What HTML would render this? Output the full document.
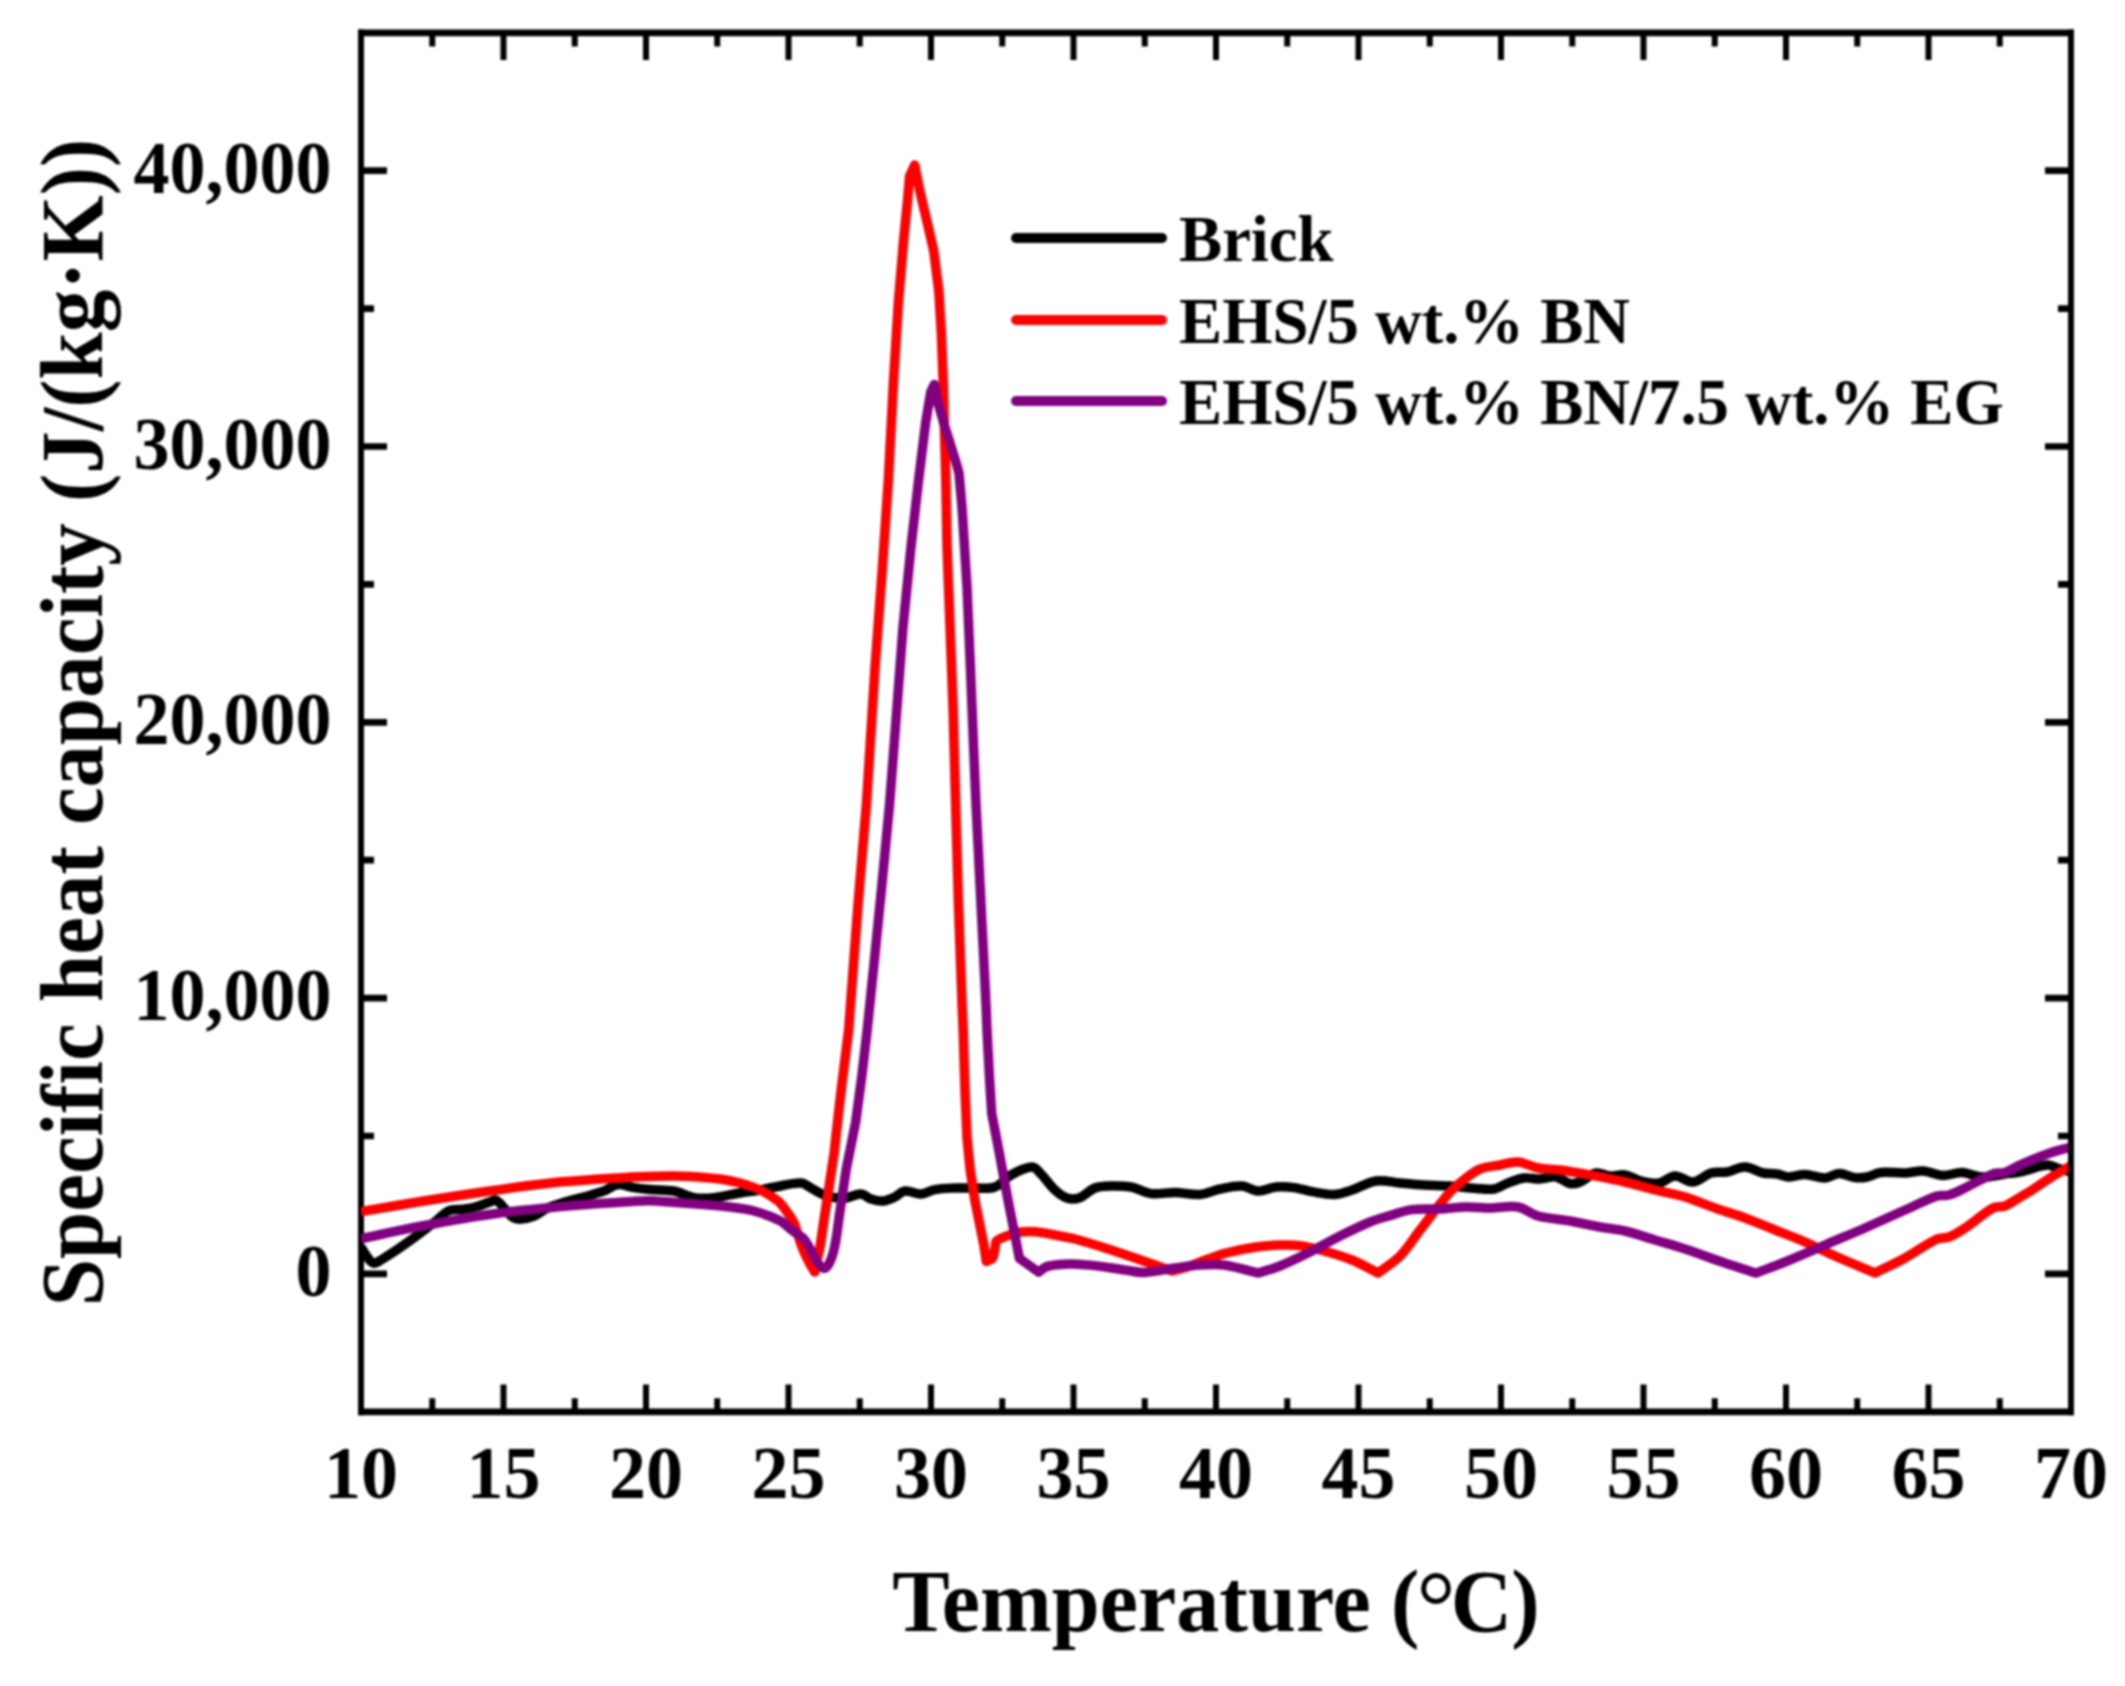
<!DOCTYPE html>
<html lang="en"><head><meta charset="utf-8"><title>Specific heat capacity</title>
<style>html,body{margin:0;padding:0;background:#fff;}svg{display:block;filter:blur(0.9px);}text{font-family:"Liberation Serif",serif;font-weight:bold;fill:#000;}</style></head><body>
<svg width="2125" height="1686" viewBox="0 0 2125 1686">
<rect width="2125" height="1686" fill="#fff"/>
<defs><clipPath id="c"><rect x="361.0" y="32.8" width="1707.0" height="1379.0"/></clipPath></defs>
<path d="M361.00,1411.8v-27.3M361.00,32.8v27.3M432.25,1411.8v-13.6M432.25,32.8v13.6M503.50,1411.8v-27.3M503.50,32.8v27.3M574.75,1411.8v-13.6M574.75,32.8v13.6M646.00,1411.8v-27.3M646.00,32.8v27.3M717.25,1411.8v-13.6M717.25,32.8v13.6M788.50,1411.8v-27.3M788.50,32.8v27.3M859.75,1411.8v-13.6M859.75,32.8v13.6M931.00,1411.8v-27.3M931.00,32.8v27.3M1002.25,1411.8v-13.6M1002.25,32.8v13.6M1073.50,1411.8v-27.3M1073.50,32.8v27.3M1144.75,1411.8v-13.6M1144.75,32.8v13.6M1216.00,1411.8v-27.3M1216.00,32.8v27.3M1287.25,1411.8v-13.6M1287.25,32.8v13.6M1358.50,1411.8v-27.3M1358.50,32.8v27.3M1429.75,1411.8v-13.6M1429.75,32.8v13.6M1501.00,1411.8v-27.3M1501.00,32.8v27.3M1572.25,1411.8v-13.6M1572.25,32.8v13.6M1643.50,1411.8v-27.3M1643.50,32.8v27.3M1714.75,1411.8v-13.6M1714.75,32.8v13.6M1786.00,1411.8v-27.3M1786.00,32.8v27.3M1857.25,1411.8v-13.6M1857.25,32.8v13.6M1928.50,1411.8v-27.3M1928.50,32.8v27.3M1999.75,1411.8v-13.6M1999.75,32.8v13.6M2071.00,1411.8v-27.3M2071.00,32.8v27.3M361.0,29.449999999999996V1415.1499999999999M2071.0,29.449999999999996V1415.1499999999999" stroke="#000" stroke-width="6.0" fill="none"/>
<path d="M361.0,1273.90h26.0M2071.0,1273.90h-26.0M361.0,1136.00h13.0M2071.0,1136.00h-13.0M361.0,998.10h26.0M2071.0,998.10h-26.0M361.0,860.20h13.0M2071.0,860.20h-13.0M361.0,722.30h26.0M2071.0,722.30h-26.0M361.0,584.40h13.0M2071.0,584.40h-13.0M361.0,446.50h26.0M2071.0,446.50h-26.0M361.0,308.60h13.0M2071.0,308.60h-13.0M361.0,170.70h26.0M2071.0,170.70h-26.0M358.0,32.8H2074.0M358.0,1411.8H2074.0" stroke="#000" stroke-width="6.7" fill="none"/>
<g clip-path="url(#c)">
<path d="M361.0,1247.0C362.7,1249.7 364.1,1252.5 366.0,1255.0C368.2,1257.9 369.9,1261.9 373.3,1263.0C375.9,1263.9 378.6,1261.4 381.0,1260.0C389.7,1254.8 398.2,1249.1 406.5,1243.2C416.1,1236.4 425.4,1229.2 434.7,1222.0C439.5,1218.3 443.3,1213.2 448.8,1210.7C453.1,1208.8 458.3,1210.0 463.0,1209.3C467.7,1208.6 472.4,1207.8 477.0,1206.5C481.8,1205.2 486.4,1203.1 491.2,1201.5C492.8,1201.0 494.6,1199.3 496.1,1200.1C499.9,1202.2 502.3,1206.2 505.3,1209.3C507.7,1211.8 509.5,1215.0 512.4,1217.0C514.4,1218.4 517.0,1219.3 519.4,1219.2C524.2,1219.1 529.0,1218.2 533.5,1216.4C538.6,1214.4 542.7,1210.3 547.7,1207.9C552.2,1205.8 557.0,1204.4 561.8,1203.0C571.1,1200.2 580.6,1197.9 590.0,1195.2C594.7,1193.8 599.5,1192.6 604.1,1190.9C608.9,1189.1 613.1,1185.2 618.2,1184.6C623.0,1184.0 627.6,1186.7 632.4,1187.4C638.2,1188.3 644.1,1189.0 650.0,1189.5C658.0,1190.2 666.1,1189.5 674.0,1191.0C680.9,1192.3 687.1,1196.5 694.0,1197.6C700.6,1198.7 707.4,1198.3 714.0,1197.6C722.8,1196.7 731.3,1194.4 740.0,1193.0C746.7,1191.9 753.4,1191.1 760.0,1190.0C765.0,1189.1 770.0,1187.9 775.0,1187.0C783.6,1185.5 792.2,1182.8 801.0,1183.0C804.7,1183.1 807.7,1186.3 811.0,1188.0C816.3,1190.7 821.3,1194.3 827.0,1196.0C832.8,1197.7 839.0,1198.4 845.0,1198.0C850.5,1197.7 855.5,1193.8 861.0,1194.0C864.7,1194.1 867.4,1197.9 871.0,1199.0C874.9,1200.2 879.0,1201.3 883.0,1201.0C887.2,1200.6 891.2,1198.7 895.0,1197.0C898.5,1195.4 901.1,1191.4 905.0,1191.0C910.4,1190.4 915.6,1194.3 921.0,1194.0C925.9,1193.8 930.2,1190.5 935.0,1189.6C941.6,1188.4 948.3,1188.3 955.0,1188.0C961.7,1187.7 968.3,1188.2 975.0,1188.0C981.7,1187.8 988.7,1189.3 995.0,1187.0C1001.3,1184.7 1005.1,1178.2 1011.0,1175.0C1017.6,1171.4 1024.5,1167.2 1032.0,1167.0C1035.8,1166.9 1038.3,1171.3 1041.0,1174.0C1046.0,1179.0 1049.8,1185.2 1055.0,1190.0C1058.5,1193.3 1062.4,1196.5 1067.0,1198.0C1070.8,1199.3 1075.2,1199.3 1079.0,1198.0C1084.9,1195.9 1089.1,1190.2 1095.0,1188.0C1100.0,1186.1 1105.6,1186.1 1111.0,1186.0C1117.7,1185.8 1124.4,1185.8 1131.0,1187.0C1137.9,1188.3 1144.0,1192.7 1151.0,1193.6C1159.0,1194.6 1167.0,1192.3 1175.0,1192.4C1183.4,1192.5 1191.7,1195.0 1200.0,1194.4C1206.9,1193.9 1213.2,1190.4 1220.0,1189.0C1227.3,1187.5 1234.6,1185.6 1242.0,1186.0C1247.6,1186.3 1252.4,1190.8 1258.0,1191.0C1264.1,1191.2 1269.9,1187.6 1276.0,1187.0C1282.0,1186.4 1288.0,1186.8 1294.0,1187.6C1300.1,1188.4 1305.9,1190.6 1312.0,1191.6C1319.3,1192.8 1326.6,1194.7 1334.0,1194.4C1340.2,1194.2 1346.1,1191.9 1352.0,1190.0C1360.1,1187.4 1367.5,1182.2 1376.0,1181.0C1383.9,1179.8 1392.0,1182.3 1400.0,1183.0C1408.0,1183.7 1416.0,1184.5 1424.0,1185.0C1432.7,1185.5 1441.3,1185.4 1450.0,1186.0C1458.7,1186.6 1467.3,1187.8 1476.0,1188.4C1482.0,1188.8 1488.1,1190.0 1494.0,1189.0C1499.0,1188.2 1503.2,1184.7 1508.0,1183.0C1513.2,1181.1 1518.5,1178.7 1524.0,1178.0C1529.3,1177.3 1534.7,1179.2 1540.0,1179.0C1545.4,1178.8 1550.7,1176.2 1556.0,1177.0C1561.1,1177.8 1564.9,1182.5 1570.0,1183.6C1573.3,1184.3 1576.9,1183.3 1580.0,1182.0C1585.7,1179.7 1590.0,1174.2 1596.0,1173.0C1600.7,1172.1 1605.2,1175.7 1610.0,1176.0C1615.0,1176.3 1620.1,1174.2 1625.0,1175.0C1630.6,1175.9 1635.5,1179.7 1641.0,1181.0C1646.9,1182.4 1653.0,1183.9 1659.0,1183.0C1664.8,1182.2 1669.2,1176.2 1675.0,1176.0C1681.3,1175.8 1686.7,1182.5 1693.0,1182.0C1699.7,1181.4 1704.6,1174.9 1711.0,1173.0C1716.1,1171.5 1721.7,1172.9 1727.0,1172.0C1733.1,1170.9 1738.8,1166.8 1745.0,1167.0C1751.3,1167.2 1756.8,1171.6 1763.0,1173.0C1767.6,1174.0 1772.4,1173.3 1777.0,1174.0C1781.1,1174.6 1784.9,1176.9 1789.0,1177.0C1794.4,1177.1 1799.6,1174.2 1805.0,1174.4C1811.8,1174.6 1818.2,1178.2 1825.0,1178.0C1829.9,1177.9 1834.1,1173.7 1839.0,1173.6C1844.5,1173.5 1849.5,1176.9 1855.0,1177.6C1859.0,1178.1 1863.1,1177.8 1867.0,1177.0C1871.8,1176.0 1876.1,1172.9 1881.0,1172.4C1889.0,1171.6 1897.0,1173.3 1905.0,1173.0C1911.0,1172.8 1917.0,1170.6 1923.0,1171.0C1929.8,1171.4 1936.2,1175.2 1943.0,1175.5C1949.4,1175.7 1955.6,1172.3 1962.0,1172.5C1968.8,1172.8 1975.2,1176.8 1982.0,1177.0C1989.7,1177.3 1997.3,1175.1 2005.0,1174.0C2010.7,1173.2 2016.4,1172.7 2022.0,1171.5C2030.4,1169.7 2038.4,1165.9 2047.0,1165.0C2050.5,1164.7 2053.7,1167.0 2057.0,1168.0C2061.7,1169.4 2066.3,1170.7 2071.0,1172.0" fill="none" stroke="#000" stroke-width="9.5" stroke-linejoin="round" stroke-linecap="butt"/>
<path d="M361.0,1211.5C380.9,1208.2 400.7,1204.7 420.6,1201.5C444.1,1197.7 467.6,1194.0 491.2,1190.7C514.7,1187.4 538.2,1184.1 561.8,1181.8C585.3,1179.5 608.8,1178.4 632.4,1177.1C644.9,1176.4 657.5,1176.2 670.0,1176.0C676.7,1175.9 683.3,1176.0 690.0,1176.4C700.0,1177.0 710.0,1177.7 720.0,1179.0C726.7,1179.9 733.4,1181.2 740.0,1183.0C746.8,1184.9 753.6,1187.0 760.0,1190.0C766.4,1193.0 772.5,1196.6 778.0,1201.0C781.7,1204.0 784.2,1208.2 787.0,1212.0C789.5,1215.5 792.2,1218.9 793.9,1222.8C797.1,1230.3 798.7,1238.4 801.6,1246.0C803.6,1251.3 806.0,1256.4 808.5,1261.4C810.3,1265.1 812.6,1268.5 814.7,1272.0C816.5,1263.3 818.3,1254.7 820.1,1246.0C821.6,1235.7 823.2,1225.3 824.7,1215.0C827.8,1194.5 830.9,1173.9 834.0,1153.4C836.3,1132.8 838.6,1112.3 840.9,1091.7C843.5,1071.1 846.0,1050.6 848.6,1030.0C849.2,1021.3 849.9,1012.7 850.5,1004.0C853.0,970.7 855.5,937.3 858.0,904.0C860.8,870.7 863.6,837.3 866.4,804.0C869.3,758.3 872.1,712.7 875.0,667.0C877.5,633.7 879.9,600.3 882.4,567.0C884.4,538.0 886.3,509.0 888.3,480.0C890.0,447.3 891.7,414.7 893.4,382.0C895.1,355.1 896.7,328.3 898.4,301.4C900.1,281.3 901.8,261.1 903.5,241.0C904.8,227.5 906.2,214.0 907.5,200.5C908.2,192.4 908.8,184.4 909.5,176.3C911.2,172.5 912.9,168.8 914.6,165.0C916.3,173.5 917.9,181.9 919.6,190.4C922.3,201.8 925.0,213.3 927.7,224.7C929.7,233.5 931.7,242.2 933.7,251.0C935.4,264.4 937.1,277.9 938.8,291.3C939.6,304.8 940.4,318.2 941.2,331.7C941.9,348.5 942.5,365.2 943.2,382.0C943.7,402.2 944.3,422.5 944.8,442.7C945.1,455.1 945.5,467.6 945.8,480.0C946.2,502.3 946.6,524.7 947.0,547.0C948.0,573.7 949.0,600.3 950.0,627.0C951.0,653.7 952.0,680.3 953.0,707.0C953.9,739.3 954.7,771.7 955.6,804.0C956.5,837.3 957.5,870.7 958.4,904.0C959.6,937.3 960.8,970.7 962.0,1004.0C962.4,1012.7 962.7,1021.3 963.1,1030.0C963.7,1050.6 964.4,1071.1 965.0,1091.7C965.7,1107.1 966.3,1122.6 967.0,1138.0C968.0,1148.3 969.0,1158.5 970.0,1168.8C971.6,1179.1 973.1,1189.4 974.7,1199.7C976.8,1210.0 978.8,1220.2 980.9,1230.5C981.9,1235.7 983.0,1240.8 984.0,1246.0C984.8,1251.1 985.5,1256.3 986.3,1261.4C988.3,1260.4 991.1,1260.2 992.4,1258.3C994.2,1255.7 994.1,1252.1 994.8,1249.0C995.4,1246.5 994.7,1243.3 996.3,1241.3C998.3,1238.8 1001.8,1237.9 1004.8,1236.7C1009.8,1234.8 1014.9,1232.8 1020.2,1232.0C1025.3,1231.2 1030.5,1231.3 1035.6,1231.8C1043.8,1232.6 1051.9,1234.5 1060.0,1236.0C1065.0,1236.9 1070.1,1237.7 1075.0,1239.0C1085.1,1241.7 1095.0,1244.8 1105.0,1248.0C1115.0,1251.2 1125.0,1254.6 1135.0,1258.0C1141.7,1260.3 1148.3,1262.7 1155.0,1265.0C1160.7,1267.0 1166.3,1269.0 1172.0,1271.0C1177.0,1269.7 1182.1,1268.6 1187.0,1267.0C1191.4,1265.6 1195.6,1263.6 1200.0,1262.0C1208.6,1258.9 1217.1,1255.4 1226.0,1253.0C1235.9,1250.4 1245.9,1248.5 1256.0,1247.0C1263.9,1245.8 1272.0,1245.3 1280.0,1245.0C1286.7,1244.8 1293.4,1244.7 1300.0,1245.6C1308.1,1246.7 1316.1,1248.8 1324.0,1251.0C1333.4,1253.6 1342.9,1256.3 1352.0,1260.0C1361.0,1263.7 1369.3,1268.7 1378.0,1273.0C1385.3,1267.3 1393.5,1262.6 1400.0,1256.0C1407.6,1248.2 1413.3,1238.7 1420.0,1230.0C1426.7,1221.3 1433.2,1212.5 1440.0,1204.0C1443.8,1199.2 1447.7,1194.3 1452.0,1190.0C1456.3,1185.7 1461.1,1181.7 1466.0,1178.0C1470.4,1174.7 1474.8,1171.0 1480.0,1169.0C1486.4,1166.6 1493.3,1166.2 1500.0,1165.0C1506.0,1163.9 1511.9,1161.5 1518.0,1162.0C1524.9,1162.5 1531.2,1166.7 1538.0,1168.0C1545.2,1169.4 1552.7,1169.0 1560.0,1170.0C1570.0,1171.4 1580.0,1173.2 1590.0,1175.0C1601.7,1177.2 1613.4,1179.3 1625.0,1182.0C1635.1,1184.3 1645.0,1187.5 1655.0,1190.0C1665.0,1192.5 1675.2,1194.0 1685.0,1197.0C1695.2,1200.1 1704.9,1204.5 1715.0,1208.0C1724.9,1211.5 1735.1,1214.4 1745.0,1218.0C1755.1,1221.7 1765.0,1226.0 1775.0,1230.0C1785.0,1234.0 1795.1,1237.7 1805.0,1242.0C1815.1,1246.4 1824.9,1251.5 1835.0,1256.0C1848.2,1261.9 1861.7,1267.3 1875.0,1273.0C1885.0,1268.0 1895.2,1263.4 1905.0,1258.0C1915.9,1252.0 1925.8,1244.3 1937.0,1239.0C1940.7,1237.3 1945.2,1238.5 1949.0,1237.0C1954.7,1234.8 1959.9,1231.4 1965.0,1228.0C1974.6,1221.7 1983.0,1213.5 1993.0,1208.0C1996.6,1206.0 2001.2,1207.4 2005.0,1206.0C2009.3,1204.4 2013.0,1201.4 2017.0,1199.0C2022.0,1196.0 2027.1,1193.1 2032.0,1190.0C2038.1,1186.1 2043.9,1181.8 2050.0,1178.0C2056.9,1173.7 2064.0,1169.7 2071.0,1165.5" fill="none" stroke="#ff0000" stroke-width="9.5" stroke-linejoin="round" stroke-linecap="butt"/>
<path d="M361.0,1238.7C380.9,1234.5 400.7,1230.0 420.6,1226.2C444.1,1221.8 467.6,1217.5 491.2,1214.2C514.6,1210.9 538.2,1208.6 561.8,1206.5C585.3,1204.4 608.9,1203.0 632.4,1201.5C638.3,1201.1 644.1,1200.6 650.0,1200.8C663.4,1201.3 676.7,1202.6 690.0,1203.6C703.3,1204.6 716.7,1205.5 730.0,1207.0C738.1,1207.9 746.2,1208.9 754.0,1211.0C762.9,1213.4 771.8,1216.5 780.0,1220.7C784.7,1223.1 788.1,1227.3 792.3,1230.5C795.8,1233.2 800.0,1235.1 803.1,1238.2C805.7,1240.8 807.4,1244.3 809.3,1247.5C811.6,1251.4 812.9,1255.8 815.5,1259.5C817.9,1262.8 820.0,1267.8 824.0,1268.3C827.0,1268.7 828.8,1264.2 830.1,1261.4C832.4,1256.6 833.7,1251.3 834.8,1246.0C836.9,1235.8 837.9,1225.3 839.4,1215.0C841.7,1199.6 844.0,1184.2 846.3,1168.8C849.4,1153.4 852.5,1137.9 855.6,1122.5C857.7,1107.1 859.7,1091.7 861.8,1076.3C863.6,1060.9 865.4,1045.4 867.2,1030.0C869.5,1008.0 871.7,986.0 874.0,964.0C876.7,937.3 879.3,910.7 882.0,884.0C884.5,857.3 887.1,830.7 889.6,804.0C892.1,771.7 894.5,739.3 897.0,707.0C899.0,680.3 901.0,653.7 903.0,627.0C905.7,600.3 908.3,573.7 911.0,547.0C913.5,524.7 916.1,502.3 918.6,480.0C921.0,460.8 923.3,441.7 925.7,422.5C927.4,412.4 929.0,402.3 930.7,392.2C931.9,389.6 933.1,387.1 934.3,384.5C935.5,390.4 936.6,396.4 937.8,402.3C940.1,410.4 942.5,418.4 944.8,426.5C948.2,437.3 951.5,448.0 954.9,458.8C956.3,463.5 957.6,468.3 959.0,473.0C960.0,484.3 961.0,495.7 962.0,507.0C963.7,533.7 965.3,560.3 967.0,587.0C968.1,613.7 969.3,640.3 970.4,667.0C971.5,693.7 972.5,720.3 973.6,747.0C974.4,766.0 975.2,785.0 976.0,804.0C977.7,837.3 979.3,870.7 981.0,904.0C982.7,937.3 984.3,970.7 986.0,1004.0C986.3,1012.7 986.7,1021.3 987.0,1030.0C987.8,1045.4 988.6,1060.9 989.4,1076.3C990.2,1088.6 990.9,1101.0 991.7,1113.3C994.3,1126.7 996.8,1140.0 999.4,1153.4C1002.2,1168.8 1005.1,1184.3 1007.9,1199.7C1009.9,1210.0 1012.0,1220.2 1014.0,1230.5C1015.8,1239.8 1017.6,1249.0 1019.4,1258.3C1025.8,1262.9 1032.3,1267.6 1038.7,1272.2C1041.3,1270.4 1043.5,1267.9 1046.4,1266.8C1050.7,1265.2 1055.4,1265.0 1060.0,1264.5C1063.6,1264.1 1067.3,1263.9 1071.0,1264.0C1079.0,1264.3 1087.0,1264.7 1095.0,1265.6C1105.0,1266.7 1115.0,1268.6 1125.0,1270.0C1131.7,1270.9 1138.3,1272.7 1145.0,1272.4C1155.1,1272.0 1165.0,1269.3 1175.0,1268.0C1183.3,1266.9 1191.6,1265.5 1200.0,1265.0C1208.0,1264.5 1216.1,1263.9 1224.0,1265.0C1235.5,1266.6 1246.7,1270.3 1258.0,1273.0C1265.3,1270.7 1272.9,1268.9 1280.0,1266.0C1290.2,1261.9 1300.1,1256.9 1310.0,1252.0C1320.1,1246.9 1329.9,1241.1 1340.0,1236.0C1349.9,1231.1 1359.8,1226.2 1370.0,1222.0C1376.5,1219.4 1383.3,1217.6 1390.0,1215.6C1397.3,1213.4 1404.5,1210.6 1412.0,1209.6C1421.3,1208.4 1430.7,1209.4 1440.0,1209.0C1448.7,1208.6 1457.3,1207.2 1466.0,1207.0C1474.0,1206.8 1482.0,1208.0 1490.0,1208.0C1499.3,1208.0 1508.8,1205.5 1518.0,1207.0C1525.2,1208.2 1530.9,1214.1 1538.0,1216.0C1548.4,1218.8 1559.4,1219.1 1570.0,1221.0C1580.0,1222.8 1590.0,1225.2 1600.0,1227.0C1608.3,1228.5 1616.8,1229.1 1625.0,1231.0C1635.2,1233.4 1645.0,1237.0 1655.0,1240.0C1665.0,1243.0 1675.1,1245.7 1685.0,1249.0C1698.4,1253.4 1711.6,1258.5 1725.0,1263.0C1735.3,1266.5 1745.7,1269.7 1756.0,1273.0C1765.7,1269.3 1775.4,1265.9 1785.0,1262.0C1798.4,1256.6 1811.7,1250.7 1825.0,1245.0C1838.3,1239.3 1851.7,1233.8 1865.0,1228.0C1878.4,1222.1 1891.6,1215.9 1905.0,1210.0C1915.6,1205.3 1926.0,1199.8 1937.0,1196.0C1940.8,1194.7 1945.1,1196.1 1949.0,1195.0C1954.6,1193.4 1959.7,1190.5 1965.0,1188.0C1974.4,1183.5 1983.3,1177.8 1993.0,1174.0C1996.8,1172.5 2001.2,1173.7 2005.0,1172.4C2011.0,1170.3 2016.2,1166.5 2022.0,1164.0C2031.2,1160.0 2040.5,1156.3 2050.0,1153.0C2056.9,1150.6 2064.0,1149.0 2071.0,1147.0" fill="none" stroke="#800080" stroke-width="9.5" stroke-linejoin="round" stroke-linecap="butt"/>
</g>
<text x="361.0" y="1498" font-size="74" text-anchor="middle">10</text>
<text x="503.5" y="1498" font-size="74" text-anchor="middle">15</text>
<text x="646.0" y="1498" font-size="74" text-anchor="middle">20</text>
<text x="788.5" y="1498" font-size="74" text-anchor="middle">25</text>
<text x="931.0" y="1498" font-size="74" text-anchor="middle">30</text>
<text x="1073.5" y="1498" font-size="74" text-anchor="middle">35</text>
<text x="1216.0" y="1498" font-size="74" text-anchor="middle">40</text>
<text x="1358.5" y="1498" font-size="74" text-anchor="middle">45</text>
<text x="1501.0" y="1498" font-size="74" text-anchor="middle">50</text>
<text x="1643.5" y="1498" font-size="74" text-anchor="middle">55</text>
<text x="1786.0" y="1498" font-size="74" text-anchor="middle">60</text>
<text x="1928.5" y="1498" font-size="74" text-anchor="middle">65</text>
<text x="2071.0" y="1498" font-size="74" text-anchor="middle">70</text>
<text transform="translate(331.4,1295.9) scale(0.973,1)" font-size="74" text-anchor="end">0</text>
<text transform="translate(331.4,1020.1) scale(0.973,1)" font-size="74" text-anchor="end">10,000</text>
<text transform="translate(331.4,744.3) scale(0.973,1)" font-size="74" text-anchor="end">20,000</text>
<text transform="translate(331.4,468.5) scale(0.973,1)" font-size="74" text-anchor="end">30,000</text>
<text transform="translate(331.4,192.7) scale(0.973,1)" font-size="74" text-anchor="end">40,000</text>
<text transform="translate(892.3,1631) scale(0.979,1)" font-size="88">Temperature</text>
<text transform="translate(1391,1631) scale(0.968,1)" font-size="88">(<tspan font-weight="normal" font-size="101" dx="-3" dy="9.5">°</tspan><tspan dx="-5" dy="-9.5">C</tspan><tspan dx="-1">)</tspan></text>
<text transform="translate(102,722.5) rotate(-90) scale(0.965,1)" font-size="88" text-anchor="middle">Specific heat capacity (J/(kg·K))</text>
<path d="M1016,238H1162" stroke="#000" stroke-width="10" stroke-linecap="round" fill="none"/>
<text x="1179" y="261" font-size="64.7">Brick</text>
<path d="M1016,320H1162" stroke="#ff0000" stroke-width="10" stroke-linecap="round" fill="none"/>
<text x="1179" y="342.7" font-size="64.7">EHS/5 wt.% BN</text>
<path d="M1016,401H1162" stroke="#800080" stroke-width="10" stroke-linecap="round" fill="none"/>
<text x="1179" y="424" font-size="64.7">EHS/5 wt.% BN/7.5 wt.% EG</text>
</svg></body></html>
